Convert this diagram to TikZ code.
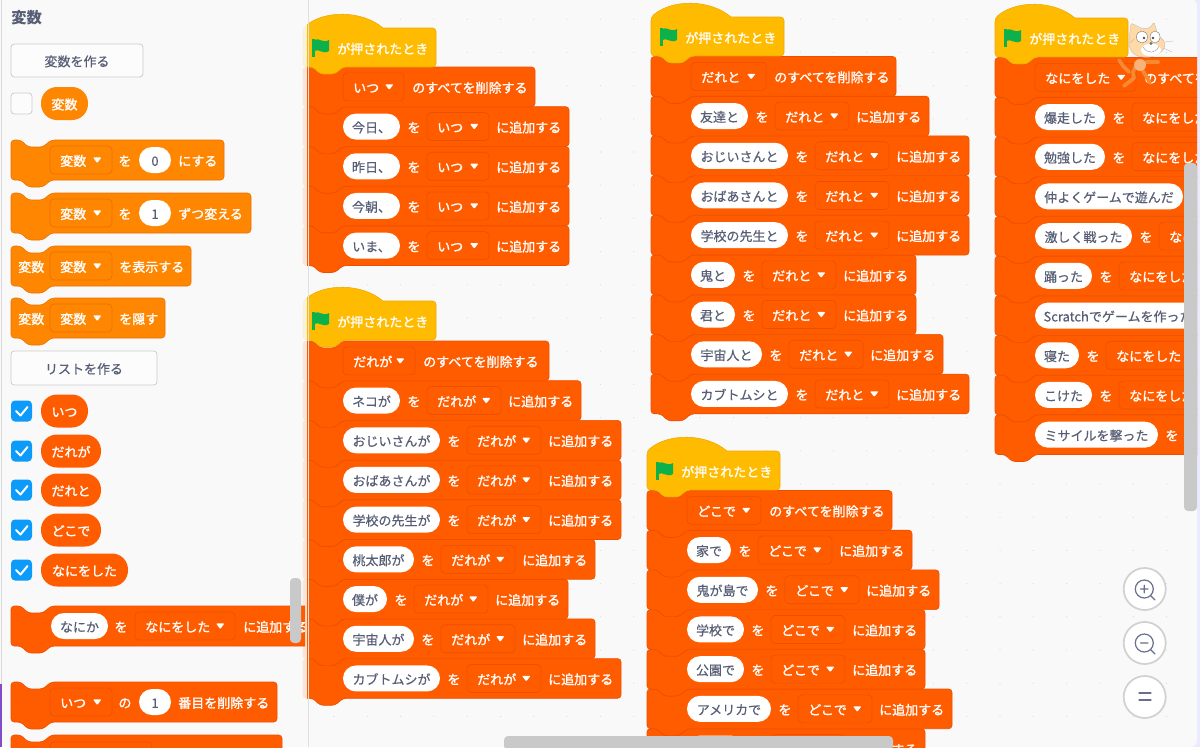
\documentclass[tikz,border=0pt]{standalone}
\usepackage{fontspec}
\setmainfont{Noto Sans CJK JP}
\newfontfamily\lblfont[FakeBold=1.4]{Noto Sans CJK JP}
\newfontfamily\inkfont[FakeBold=0.4]{Noto Sans CJK JP}
\usetikzlibrary{arrows.meta, positioning, calc}

\definecolor{listorange}{HTML}{FF5C00}
\definecolor{listedge}{HTML}{EE4E00}
\definecolor{varorange}{HTML}{FF8600}
\definecolor{varedge}{HTML}{EA7000}
\definecolor{hatyellow}{HTML}{FFBB00}
\definecolor{hatedge}{HTML}{EDA800}
\definecolor{inkgray}{HTML}{575E75}
\definecolor{panelbg}{HTML}{F9F9F9}
\definecolor{dotgray}{HTML}{DADADA}
\definecolor{barg}{HTML}{C9C9C9}
\definecolor{flaggreen}{HTML}{0DB14B}
\definecolor{tickblue}{HTML}{0C9BFB}
\definecolor{iconblue}{HTML}{66708C}
\definecolor{catbody}{HTML}{F58A32}
\definecolor{cathead}{HTML}{FFD9A8}

% outline of one stack block: x, top, right, bottom
\newcommand{\blockpath}[4]{({#1+40},#2) -- (#3,#2) -- (#3,#4) -- ({#1+40},#4) -- ({#1+32},{#4+7}) -- ({#1+17},{#4+7}) -- ({#1+10},#4) -- (#1,#4) -- (#1,#2) -- ({#1+10},#2) -- ({#1+17},{#2+7}) -- ({#1+32},{#2+7}) -- cycle}
% dropdown: left, right, centre y, text
\newcommand{\dropdown}[5][]{
    \draw[ddbox, #1] (#2,{#4-14}) rectangle (#3,{#4+14});
    \node[lbl, anchor=west] at ({#2+10},#4) {#5};
    \fill[white, rounded corners=0.7pt] ({#3-19},{#4-2.6}) -- ({#3-10.5},{#4-2.6}) -- ({#3-14.75},{#4+3}) -- cycle;
}
% pill: left, right, centre y, text
\newcommand{\pill}[4]{
    \fill[white, rounded corners=9.75pt] (#1,{#3-13}) rectangle (#2,{#3+13});
    \node[ink] at ({(#1+#2)/2},#3) {#4};
}
% list add row: x, top, pill right, pill text, list name, dropdown width
\newcommand{\addrow}[6]{
    \path[listblock] \blockpath{#1}{#2}{#3+27+#6+80}{#2+39.7};
    \pill{#1+40}{#3}{#2+19.85}{#4}
    \node[lbl] at ({#3+14},{#2+19.85}) {を};
    \dropdown[listedge]{#3+27}{#3+27+#6}{#2+19.85}{#5}
    \node[lbl, anchor=west] at ({#3+27+#6+7},{#2+19.85}) {に追加する};
}
% list clear row: x, top, list name, dropdown width, right
\newcommand{\clearrow}[5]{
    \path[listblock] \blockpath{#1}{#2}{#5}{#2+39.7};
    \dropdown[listedge]{#1+40}{#1+40+#4}{#2+19.85}{#3}
    \node[lbl, anchor=west] at ({#1+40+#4+8},{#2+19.85}) {のすべてを削除する};
}
% green flag hat: x, top
\newcommand{\hatblock}[2]{
    \path[fill=hatyellow, draw=hatedge, line width=0.4pt, rounded corners=2.5pt]
        (#1,{#2+14}) [sharp corners] .. controls ({#1+21},{#2-4}) and ({#1+59},{#2-4}) .. ({#1+80},{#2+14}) [rounded corners=2.5pt]
        -- ({#1+133},{#2+14}) -- ({#1+133},{#2+53}) -- ({#1+40},{#2+53}) -- ({#1+32},{#2+60}) -- ({#1+17},{#2+60}) -- ({#1+10},{#2+53}) -- (#1,{#2+53}) -- cycle;
    \fill[flaggreen] ({#1+9},{#2+25}) rectangle ({#1+11.5},{#2+43});
    \fill[flaggreen] ({#1+11},{#2+26}) .. controls ({#1+16},{#2+23}) and ({#1+20},{#2+30}) .. ({#1+26},{#2+26}) -- ({#1+26},{#2+37}) .. controls ({#1+20},{#2+41}) and ({#1+16},{#2+34}) .. ({#1+11},{#2+37}) -- cycle;
    \node[lbl, anchor=west] at ({#1+34},{#2+34}) {が押されたとき};
}
% variable monitor line: centre y, pill right, text
\newcommand{\tickline}[3]{
    \fill[tickblue, rounded corners=3pt] (11,{#1-10.5}) rectangle (32,{#1+10.5});
    \draw[white, line width=1.5pt, line cap=round, line join=round] (16,#1) -- (20.5,{#1+4.5}) -- (27.5,{#1-4});
    \fill[listorange, rounded corners=12pt] (41,{#1-16.5}) rectangle (#2,{#1+16.5});
    \node[lbl] at ({(41+#2)/2},#1) {#3};
}

\begin{document}
\begin{tikzpicture}[x=0.75pt, y=-0.75pt,
    lbl/.style={text=white, font=\fontsize{9.75}{12}\selectfont\lblfont, inner sep=0pt, text height=1em, text depth=0.12em},
    ink/.style={text=inkgray, font=\fontsize{9.75}{12}\selectfont\inkfont, inner sep=0pt, text height=1em, text depth=0.12em},
    listblock/.style={fill=listorange, draw=listedge, line width=0.5pt, rounded corners=2.5pt},
    varblock/.style={fill=varorange, draw=varedge, line width=0.4pt, rounded corners=2.5pt},
    ddbox/.style={line width=0.5pt, rounded corners=3pt},
    sidebtn/.style={fill=white!50!panelbg, draw=black!20, line width=0.6pt, rounded corners=2.5pt},
    zoombtn/.style={fill=white, draw=black!18, line width=1.3pt},
    icon/.style={draw=iconblue, line width=0.9pt, line cap=round},
    catlimb/.style={draw=catbody, line width=2.8pt, line cap=round, line join=round}]
    \useasboundingbox (0,0) rectangle (1200,747);
    \fill[blue!8!white] (0,0) rectangle (1200,747);

    \begin{scope}
    \clip[rounded corners=5pt] (-10,-10) -- (1197,-1) -- (1197,747) -- (-10,757) -- cycle;
    \fill[panelbg] (0,0) rectangle (1200,747);
    % dots of the workspace
    \foreach \i in {0,...,35}
        \foreach \j in {0,...,22}
            \fill[dotgray] ({1+33.3*\i},{19.2+33.2*\j}) circle (0.6);

    % stack 1, last row first
    \addrow{303}{225.8}{400}{いま、}{いつ}{62}
    \addrow{303}{186.1}{400}{今朝、}{いつ}{62}
    \addrow{303}{146.4}{400}{昨日、}{いつ}{62}
    \addrow{303}{106.7}{400}{今日、}{いつ}{62}
    \clearrow{303}{67}{いつ}{61}{535}
    \hatblock{303}{14}

    % stack 2
    \addrow{303}{658.6}{440}{カブトムシが}{だれが}{74}
    \addrow{303}{618.9}{414}{宇宙人が}{だれが}{74}
    \addrow{303}{579.2}{387}{僕が}{だれが}{74}
    \addrow{303}{539.5}{414}{桃太郎が}{だれが}{74}
    \addrow{303}{499.8}{440}{学校の先生が}{だれが}{74}
    \addrow{303}{460.1}{440}{おばあさんが}{だれが}{74}
    \addrow{303}{420.4}{440}{おじいさんが}{だれが}{74}
    \addrow{303}{380.7}{400}{ネコが}{だれが}{74}
    \clearrow{303}{341}{だれが}{72}{549}
    \hatblock{303}{287}

    % stack 3
    \addrow{651}{374.1}{788}{カブトムシと}{だれと}{74}
    \addrow{651}{334.4}{762}{宇宙人と}{だれと}{74}
    \addrow{651}{294.7}{735}{君と}{だれと}{74}
    \addrow{651}{255}{735}{鬼と}{だれと}{74}
    \addrow{651}{215.3}{788}{学校の先生と}{だれと}{74}
    \addrow{651}{175.6}{788}{おばあさんと}{だれと}{74}
    \addrow{651}{135.9}{788}{おじいさんと}{だれと}{74}
    \addrow{651}{96.2}{748}{友達と}{だれと}{74}
    \clearrow{651}{56.5}{だれと}{75}{896}
    \hatblock{651}{3}

    % stack 4, cut by the bottom edge
    \addrow{647}{728.7}{744}{}{どこで}{74}
    \addrow{647}{689}{771}{アメリカで}{どこで}{74}
    \addrow{647}{649.3}{744}{公園で}{どこで}{74}
    \addrow{647}{609.6}{744}{学校で}{どこで}{74}
    \addrow{647}{569.9}{758}{鬼が島で}{どこで}{74}
    \addrow{647}{530.2}{731}{家で}{どこで}{74}
    \clearrow{647}{490.5}{どこで}{74}{892}
    \hatblock{647}{437}

    % stack 5, cut by the right edge
    \addrow{995}{414.8}{1158}{ミサイルを撃った}{なにをした}{101}
    \addrow{995}{375.1}{1092}{こけた}{なにをした}{101}
    \addrow{995}{335.4}{1079}{寝た}{なにをした}{101}
    \addrow{995}{295.7}{1201}{Scratchでゲームを作った}{なにをした}{101}
    \addrow{995}{256}{1092}{踊った}{なにをした}{101}
    \addrow{995}{216.3}{1132}{激しく戦った}{なにをした}{101}
    \addrow{995}{176.6}{1183}{仲よくゲームで遊んだ}{なにをした}{101}
    \addrow{995}{136.9}{1105}{勉強した}{なにをした}{101}
    \addrow{995}{97.2}{1105}{爆走した}{なにをした}{101}
    \clearrow{995}{57.5}{なにをした}{101}{1280}
    \hatblock{995}{4}

    % sprite
    \draw[catlimb] (1119,60) -- (1123,66) -- (1129,72);
    \draw[catlimb] (1138,62) -- (1133,72) -- (1134,78) -- (1124,86);
    \draw[catlimb] (1140,66) -- (1146,76) -- (1150,83);
    \draw[catlimb] (1146,62) -- (1158,62);
    \fill[catbody!65!white] (1140,65) ellipse (6 and 6);
    \path[fill=cathead, draw=black!25, line width=0.3pt, rounded corners=1.5pt] (1131,23) -- (1143,29) -- (1150,28) -- (1154,22) -- (1158,35) -- (1165,42) .. controls (1165,52) and (1154,58) .. (1143,57) .. controls (1133,56) and (1128,48) .. (1129,40) -- cycle;
    \fill[white] (1151,50) ellipse (10 and 6.5);
    \fill[white, draw=black!55, line width=0.3pt] (1142,37) ellipse (5.5 and 6) (1155,37) ellipse (5 and 6);
    \fill[black!70] (1144,38) circle (1.4) (1153,38) circle (1.4);
    \fill[black!55] (1151,43.5) circle (1.6);
    \draw[black!40, line width=0.3pt] (1143,47) .. controls (1147,54) and (1156,54) .. (1159,46);
    \draw[black!25, line width=0.3pt] (1165,42) -- (1173,41) (1163,48) -- (1172,52) (1130,43) -- (1134,39);

    % scroll bars and zoom buttons
    \fill[barg, rounded corners=3pt] (1184,163) rectangle (1197,511);
    \fill[barg, rounded corners=3pt] (504,736) rectangle (893,750);
    \draw[zoombtn] (1144.7,589) circle (21);
    \draw[zoombtn] (1144.7,643) circle (21);
    \draw[zoombtn] (1144.7,697) circle (21);
    \draw[icon] (1144.3,589) circle (9) (1151,596) -- (1155,600) (1140.5,589) -- (1148,589) (1144.3,585.2) -- (1144.3,592.8);
    \draw[icon] (1144.3,643) circle (9) (1151,650) -- (1155,654) (1140.5,643) -- (1148,643);
    \draw[icon] (1139,693) -- (1151,693) (1139,700) -- (1151,700);
    \end{scope}

    % block palette
    \fill[panelbg, opacity=0.88] (0,0) rectangle (307,747);
    \draw[black!12, line width=0.6pt] (308,0) -- (308,747);
    \draw[black!15, line width=0.8pt] (1.2,0) -- (1.2,747);
    \fill[violet!60!blue!70!white] (0,684) rectangle (2,747);

    \node[ink, font=\fontsize{11.5}{13}\selectfont\bfseries, anchor=west] at (11,18) {変数};
    \path[sidebtn] (11,44) rectangle (143,77);
    \node[ink] at (77,60.5) {変数を作る};
    \path[sidebtn] (11,93) rectangle (32,114);
    \fill[varorange, rounded corners=12pt] (41,87) rectangle (88,120);
    \node[lbl] at (64.5,103.5) {変数};

    \path[varblock] \blockpath{11}{140}{224}{180};
    \dropdown[varedge]{50}{112}{160}{変数}
    \node[lbl] at (125,160) {を};
    \pill{139}{171}{160}{0}
    \node[lbl, anchor=west] at (178,160) {にする};

    \path[varblock] \blockpath{11}{193}{251}{233};
    \dropdown[varedge]{50}{112}{213}{変数}
    \node[lbl] at (125,213) {を};
    \pill{139}{171}{213}{1}
    \node[lbl, anchor=west] at (178,213) {ずつ変える};

    \path[varblock] \blockpath{11}{246}{191}{286};
    \node[lbl, anchor=west] at (18,266) {変数};
    \dropdown[varedge]{50}{112}{266}{変数}
    \node[lbl, anchor=west] at (119,266) {を表示する};

    \path[varblock] \blockpath{11}{298}{165}{338};
    \node[lbl, anchor=west] at (18,318) {変数};
    \dropdown[varedge]{50}{112}{318}{変数}
    \node[lbl, anchor=west] at (119,318) {を隠す};

    \path[sidebtn] (11,351) rectangle (157,385);
    \node[ink] at (84,368) {リストを作る};

    \tickline{411}{88}{いつ}
    \tickline{451}{101}{だれが}
    \tickline{490}{101}{だれと}
    \tickline{530}{101}{どこで}
    \tickline{570}{128}{なにをした}

    \begin{scope}
    \clip (0,0) rectangle (305,747);
    \path[listblock] \blockpath{11}{606}{330}{646};
    \pill{51}{108}{626}{なにか}
    \node[lbl] at (121,626) {を};
    \dropdown[listedge]{135}{235}{626}{なにをした}
    \node[lbl, anchor=west] at (243,626) {に追加する};
    \end{scope}

    \path[listblock] \blockpath{11}{735}{282}{775};
    \draw[ddbox, listedge] (50,742) rectangle (152,770);
    \path[listblock] \blockpath{11}{682}{277}{722};
    \dropdown[listedge]{50}{112}{702}{いつ}
    \node[lbl] at (125,702) {の};
    \pill{139}{171}{702}{1}
    \node[lbl, anchor=west] at (178,702) {番目を削除する};

    \fill[barg, rounded corners=3pt] (290,578) rectangle (301,643);
\end{tikzpicture}
\end{document}
